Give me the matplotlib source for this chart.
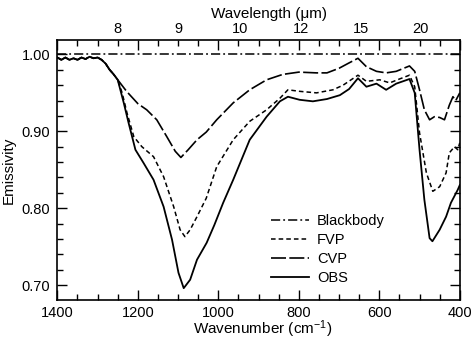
import numpy as np
import matplotlib
matplotlib.use("Agg")
import matplotlib.pyplot as plt
from matplotlib.ticker import MultipleLocator

plt.rcParams['font.family'] = ['Liberation Sans', 'DejaVu Sans']
plt.rcParams['mathtext.default'] = 'regular'
size = 10.5

# common part (all spectra overlap above ~1250 cm-1)
wn_common = [1400, 1390, 1380, 1370, 1360, 1350, 1340, 1330, 1320, 1310, 1300, 1290, 1280, 1270, 1260, 1250]
em_common = [0.996, 0.993, 0.996, 0.993, 0.995, 0.993, 0.996, 0.994, 0.997, 0.995, 0.996, 0.993, 0.988, 0.980, 0.974, 0.967]

wn_cvp = [1228, 1200, 1178, 1153, 1128, 1107, 1093, 1075, 1053, 1030, 1004, 963, 922, 880, 840, 800,
          756, 730, 700, 675, 653, 632, 607, 583, 558, 525, 512, 500, 488, 475, 463, 450, 438,
          426, 417, 410, 400]
em_cvp = [0.952, 0.936, 0.928, 0.915, 0.893, 0.874, 0.866, 0.876, 0.889, 0.899, 0.915, 0.937, 0.954,
          0.967, 0.974, 0.977, 0.976, 0.976, 0.982, 0.989, 0.995, 0.984, 0.978, 0.976, 0.978, 0.985,
          0.978, 0.954, 0.928, 0.915, 0.919, 0.918, 0.915, 0.934, 0.945, 0.940, 0.950]

wn_fvp = [1239, 1227, 1210, 1190, 1161, 1136, 1111, 1095, 1083, 1070, 1053, 1030, 1004, 963, 922,
          880, 847, 827, 798, 756, 715, 690, 653, 632, 599, 574, 550, 525, 512, 500, 483, 467,
          450, 434, 426, 413, 405, 400]
em_fvp = [0.950, 0.924, 0.893, 0.880, 0.867, 0.841, 0.802, 0.772, 0.763, 0.772, 0.789, 0.813, 0.854,
          0.889, 0.913, 0.928, 0.943, 0.954, 0.952, 0.950, 0.954, 0.960, 0.973, 0.965, 0.967, 0.963,
          0.968, 0.973, 0.958, 0.898, 0.846, 0.822, 0.828, 0.846, 0.872, 0.880, 0.876, 0.885]

wn_obs = [1235, 1223, 1206, 1186, 1161, 1136, 1115, 1099, 1086, 1070, 1053, 1029, 1010, 988, 963,
          922, 880, 847, 827, 798, 765, 730, 698, 675, 653, 632, 607, 583, 558, 525, 512, 500,
          488, 475, 468, 450, 434, 422, 405, 400]
em_obs = [0.937, 0.911, 0.876, 0.859, 0.837, 0.802, 0.759, 0.716, 0.696, 0.707, 0.733, 0.755, 0.778,
          0.807, 0.837, 0.889, 0.919, 0.939, 0.945, 0.941, 0.939, 0.942, 0.947, 0.955, 0.969, 0.958,
          0.962, 0.954, 0.962, 0.968, 0.950, 0.876, 0.811, 0.761, 0.757, 0.772, 0.789, 0.807,
          0.824, 0.830]

wn_bb = [1400, 400]
em_bb = [1.0, 1.0]

wavelength_labels = ['8', '9', '10', '12', '15', '20']
wavelength_pos = [1250, 1098, 947, 794, 645, 498]

fig = plt.figure(figsize=(4.74, 3.41), dpi=100)
ax = fig.add_axes([0.121, 0.120, 0.849, 0.763])

ax.plot(wn_bb, em_bb, color='black', lw=1.1, linestyle=(0, (6, 2, 1.2, 2)), label='Blackbody')
ax.plot(wn_common + wn_fvp, em_common + em_fvp, color='black', lw=1.1, linestyle=(0, (3, 2)), label='FVP')
ax.plot(wn_common + wn_cvp, em_common + em_cvp, color='black', lw=1.2, linestyle=(0, (9, 2)), label='CVP')
ax.plot(wn_common + wn_obs, em_common + em_obs, color='black', lw=1.3, linestyle='-', label='OBS')

ax.set_xlim(1400, 400)
ax.set_ylim(0.6805, 1.0189)

ax.xaxis.set_major_locator(MultipleLocator(200))
ax.xaxis.set_minor_locator(MultipleLocator(50))
ax.yaxis.set_major_locator(MultipleLocator(0.1))
ax.yaxis.set_minor_locator(MultipleLocator(0.02))
ax.yaxis.set_major_formatter(plt.FuncFormatter(lambda v, p: '{:.2f}'.format(v)))

ax.tick_params(which='both', direction='in', top=True, right=True, width=1.0,
               labelsize=size, colors='black')
ax.tick_params(which='major', length=7)
ax.tick_params(axis='x', which='major', pad=4)
ax.tick_params(axis='y', which='major', pad=5)
ax.tick_params(which='minor', length=4)
for s in ax.spines.values():
    s.set_linewidth(1.2)

ax.set_xlabel('Wavenumber (cm$^{-1}$)', fontsize=11, labelpad=-1, x=0.51)
ax.set_ylabel('Emissivity', fontsize=11, labelpad=4)

top = ax.secondary_xaxis('top')
top.set_xticks(wavelength_pos, wavelength_labels)
top.tick_params(length=0, pad=2.5, labelsize=size)
top.spines['top'].set_visible(False)
top.set_xlabel('Wavelength (\u03bcm)', fontsize=11, labelpad=3, x=0.526)

ax.legend(loc='lower left', bbox_to_anchor=(0.495, 0.0), frameon=False, fontsize=size,
          handlelength=2.6, handletextpad=0.55, labelspacing=0.35, borderaxespad=0.6)

plt.savefig('out.png', dpi=100)
